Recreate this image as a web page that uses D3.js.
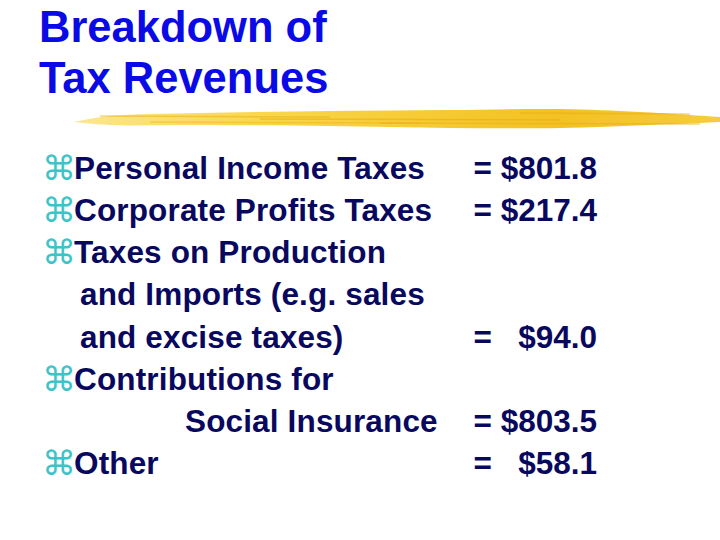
<!DOCTYPE html>
<html>
<head>
    <meta charset="UTF-8">
    <title>Breakdown of Tax Revenues</title>
    <script src="https://cdn.jsdelivr.net/npm/d3@7"></script>
    <style>
        html, body { margin: 0; padding: 0; background: #fff; }
        svg { display: block; }
        text { font-family: "Liberation Sans", Arial, sans-serif; white-space: pre; }
    </style>
</head>
<body>
<div id="slide"></div>
<script>
    // Slide content
    var titleLines = ["Breakdown of", "Tax Revenues"];
    var lineTexts = ["Personal Income Taxes", "Corporate Profits Taxes", "Taxes on Production",
        "and Imports (e.g. sales", "and excise taxes)", "Contributions for", "Social Insurance", "Other"];
    var lineLevels = [0, 0, 0, 1, 1, 0, 2, 0];          // 0 = bullet, 1 = continuation, 2 = right-hand continuation
    var lineValues = [801.8, 217.4, null, null, 94.0, null, 803.5, 58.1]; // $ billions

    var W = 720, H = 540;
    var svg = d3.select("#slide").append("svg").attr("width", W).attr("height", H);

    // Title
    svg.selectAll("text.title")
        .data(titleLines)
        .join("text")
        .attr("class", "title")
        .attr("x", 39)
        .attr("y", function (d, i) { return 42 + i * 51; })
        .attr("fill", "#0a0ae6")
        .style("font-size", "43.5px")
        .style("font-weight", "bold")
        .text(function (d) { return d; });

    // Yellow brush stroke under the title
    var defs = svg.append("defs");
    var grad = defs.append("linearGradient").attr("id", "brush");
    grad.append("stop").attr("offset", "0%").attr("stop-color", "#fde68f");
    grad.append("stop").attr("offset", "30%").attr("stop-color", "#f9d64a");
    grad.append("stop").attr("offset", "75%").attr("stop-color", "#f3c122");
    grad.append("stop").attr("offset", "100%").attr("stop-color", "#f5cb40");

    var brushTop = [[74, 122], [110, 116], [200, 113], [330, 111], [450, 110], [560, 109], [640, 112], [720, 117]];
    var brushBot = [[720, 122], [650, 125], [560, 128], [450, 128], [330, 126], [200, 125], [110, 125], [74, 122]];
    var smooth = d3.line().curve(d3.curveCatmullRom);
    svg.append("path")
        .attr("d", smooth(brushTop) + "L" + smooth(brushBot).slice(1) + "Z")
        .attr("fill", "url(#brush)");
    // streaks in the brush
    [[100, 330, 116, 0.5], [260, 560, 119, 0.6], [380, 700, 123, 0.5], [150, 420, 122, 0.4], [520, 690, 113, 0.5]]
        .forEach(function (s) {
            svg.append("line")
                .attr("x1", s[0]).attr("x2", s[1])
                .attr("y1", s[2]).attr("y2", s[2] + 1)
                .attr("stroke", "#e8ad10").attr("stroke-opacity", s[3]).attr("stroke-width", 1.5);
        });

    // Rows
    var y = d3.scalePoint().domain(d3.range(lineTexts.length)).range([179, 474]);
    var indentX = [74, 80, 185];
    var valueFmt = d3.format(".1f");
    var navy = "#08085e";

    var rows = svg.selectAll("g.row")
        .data(lineTexts.map(function (t, i) {
            return {text: t, level: lineLevels[i], value: lineValues[i], i: i};
        }))
        .join("g")
        .attr("class", "row")
        .attr("transform", function (d) { return "translate(0," + y(d.i) + ")"; });

    rows.filter(function (d) { return d.level === 0; })
        .append("text")
        .attr("x", 42)
        .attr("y", 1)
        .attr("fill", "#3cc4c8")
        .style("font-family", "'DejaVu Sans', sans-serif")
        .style("font-size", "34px")
        .text("\u2318");

    rows.append("text")
        .attr("x", function (d) { return indentX[d.level]; })
        .attr("fill", navy)
        .style("font-size", "31.5px")
        .style("font-weight", "bold")
        .style("letter-spacing", "0.15px")
        .text(function (d) { return d.text; });

    rows.filter(function (d) { return d.value != null; })
        .append("text")
        .attr("x", 597)
        .attr("text-anchor", "end")
        .attr("fill", navy)
        .style("font-size", "31.5px")
        .style("font-weight", "bold")
        .text(function (d) {
            return (d.value < 100 ? "=   $" : "= $") + valueFmt(d.value);
        });
</script>
</body>
</html>
